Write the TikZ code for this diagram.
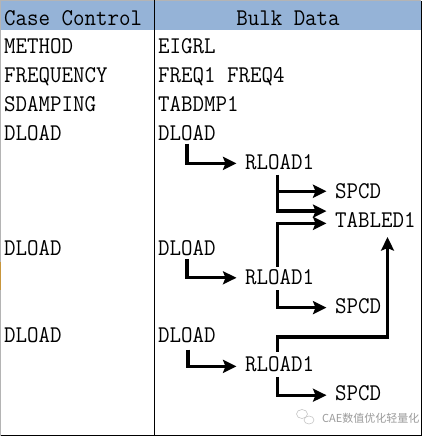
\documentclass[tikz,border=0pt]{standalone}
\usepackage{fontspec}
\newfontfamily\tabmono[FakeStretch=0.93]{Latin Modern Mono}
\newfontfamily\cjkfont{Noto Sans CJK SC}
\usetikzlibrary{arrows.meta,calc,shapes.geometric}
\definecolor{hdrblue}{HTML}{95B3D7}
\definecolor{edgegray}{HTML}{B4B4B4}
\definecolor{wmgray}{HTML}{9A9A9A}
\definecolor{edgeorange}{HTML}{C8963C}
\begin{document}
\begin{tikzpicture}[x=1pt,y=-1pt,
  txt/.style={anchor=base west,inner sep=0pt,font=\tabmono\fontsize{24}{26}\selectfont},
  arr/.style={line width=3.3pt,-{Stealth[length=13.5pt,width=13pt,inset=2.5pt]}},
  rule/.style={line width=1.3pt}]
\useasboundingbox (0,0) rectangle (424,438);
% table frame
\fill[hdrblue] (1,1) rectangle (421,30);
\fill[edgegray] (0,0) rectangle (421,1);
\fill[edgegray] (0,0) rectangle (1.3,436);
\fill[edgeorange] (0,262) rectangle (1.3,290);
\draw[rule] (154.5,0) -- (154.5,435.5);
\draw[rule] (421.3,1.5) -- (421.3,435.8);
\draw[line width=1.5pt] (1.3,435.3) -- (422,435.3);
% header
\node[txt] (hc) at (4,25.3) {Case Control};
\node[txt,anchor=base] (hb) at (288,25.3) {Bulk Data};
% case control column
\node[txt] (c1) at (4,54) {METHOD};
\node[txt] (c2) at (4,82.85) {FREQUENCY};
\node[txt] (c3) at (4,111.7) {SDAMPING};
\node[txt] (c4) at (4,140.55) {DLOAD};
\node[txt] (c5) at (4,255.95) {DLOAD};
\node[txt] (c6) at (4,342.5) {DLOAD};
% bulk data column
\node[txt] (b1) at (158,54) {EIGRL};
\node[txt] (b2) at (158,82.85) {FREQ1 FREQ4};
\node[txt] (b3) at (158,111.7) {TABDMP1};
\node[txt] (d1) at (158,140.55) {DLOAD};
\node[txt] (r1) at (245,169.4) {RLOAD1};
\node[txt] (s1) at (335,198.25) {SPCD};
\node[txt] (t)  at (335,227.1) {TABLED1};
\node[txt] (d2) at (158,255.95) {DLOAD};
\node[txt] (r2) at (245,284.8) {RLOAD1};
\node[txt] (s2) at (335,313.65) {SPCD};
\node[txt] (d3) at (158,342.5) {DLOAD};
\node[txt] (r3) at (245,371.35) {RLOAD1};
\node[txt] (s3) at (335,400.2) {SPCD};
% connectors
\draw[arr] ($(d1.base west)+(29,3)$) |- ($(r1.base west)+(-8.5,-6)$);
\draw[arr] ($(r1.base west)+(32.5,5.5)$) |- ($(s1.base west)+(-8.5,-7)$);
\draw[arr] ($(r1.base west)+(32.5,5.5)$) |- ($(t.base west)+(-8.5,-16)$);
\draw[arr] ($(r2.base west)+(32.5,-18)$) |- ($(t.base west)+(-8.5,-3.7)$);
\draw[arr] ($(d2.base west)+(29,3)$) |- ($(r2.base west)+(-8.5,-7)$);
\draw[arr] ($(r2.base west)+(32.5,5.5)$) |- ($(s2.base west)+(-8.5,-6)$);
\draw[arr] ($(d3.base west)+(30,7)$) |- ($(r3.base west)+(-8.5,-5)$);
\draw[arr] ($(r3.base west)+(32.5,5.5)$) |- ($(s3.base west)+(-8.5,-5)$);
\coordinate (bend) at ($(t.base west)+(52.5,110)$);
\draw[arr] ($(r3.base west)+(32.5,-19.5)$) |- (bend) -- ($(t.base west)+(52.5,10)$);
% watermark
\node[draw=wmgray!60,line width=0.6pt,ellipse,minimum width=11pt,minimum height=9pt,inner sep=0pt] (wm1) at (302,414) {};
\node[draw=wmgray!60,line width=0.6pt,ellipse,minimum width=10pt,minimum height=8pt,inner sep=0pt] (wm2) at (309,420) {};
\node[anchor=west,inner sep=0pt,text=wmgray,font=\cjkfont\fontsize{11}{12}\selectfont] (wm) at (322,418) {CAE数值优化轻量化};
\end{tikzpicture}
\end{document}
